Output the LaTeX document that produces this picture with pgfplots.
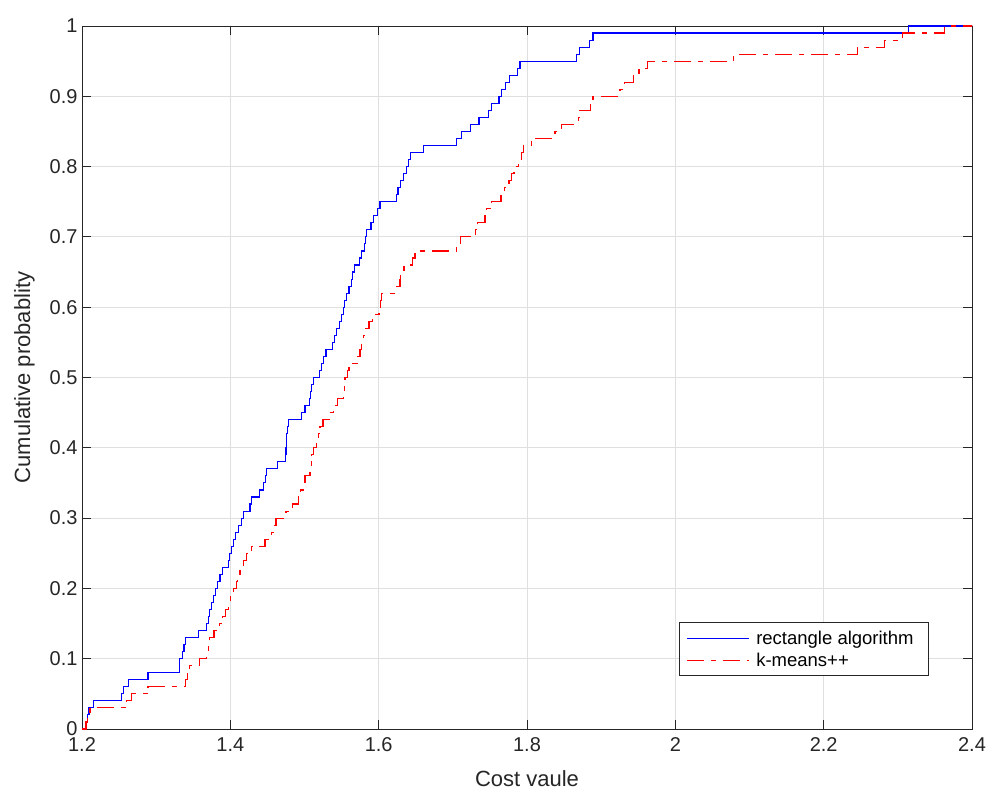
\documentclass[border=0pt]{standalone}
\usepackage{fontspec}
\setmainfont{Liberation Sans}
\usepackage{pgfplots}
\pgfplotsset{compat=1.18}
\definecolor{axgray}{RGB}{38,38,38}
\definecolor{gridgray}{RGB}{223,223,223}
\definecolor{mblue}{RGB}{0,0,255}
\definecolor{mred}{RGB}{255,0,0}
\begin{document}
\begin{tikzpicture}
\begin{axis}[name=ax, scale only axis, width=890pt, height=703pt,
 xmin=1.2, xmax=2.4, ymin=0, ymax=1,
 xtick={1.2,1.4,1.6,1.8,2,2.2,2.4},
 ytick={0,0.1,0.2,0.3,0.4,0.5,0.6,0.7,0.8,0.9,1},
 tick align=inside, major tick length=9pt,
 tick style={axgray, line width=0.8pt},
 axis line style={axgray, line width=0.8pt},
 grid=major, grid style={gridgray, line width=0.8pt},
 ticklabel style={font=\fontsize{20}{24}\selectfont, text=axgray},
 xticklabel style={yshift=-5pt},
 yticklabel style={xshift=-1pt},
 /pgf/number format/assume math mode=true,
 xlabel={Cost vaule}, ylabel={Cumulative probablity},
 label style={font=\fontsize{22}{26}\selectfont, text=axgray},
 xlabel style={yshift=-12pt},
 ylabel style={yshift=8pt},
 legend style={at={(rel axis cs:0.9517,0.0754)}, anchor=south east, draw=axgray, line width=0.8pt,
   font=\fontsize{18.5}{22}\selectfont, text=black, inner xsep=7pt, inner ysep=6pt,
   row sep=3pt, /tikz/every odd column/.append style={column sep=5pt}},
 legend cell align=left,
 legend image code/.code={\draw[#1] (0pt,0pt) -- (62pt,0pt);},
]
\addplot[const plot, draw=mblue, line width=1.1pt] coordinates {
(1.2000,0.00) (1.2054,0.01) (1.2075,0.02) (1.2095,0.03) (1.2150,0.04) (1.2535,0.05) (1.2560,0.06)
(1.2625,0.07) (1.2890,0.08) (1.3310,0.09) (1.3320,0.10) (1.3350,0.11) (1.3375,0.12) (1.3400,0.13)
(1.3570,0.14) (1.3680,0.15) (1.3700,0.16) (1.3720,0.17) (1.3740,0.18) (1.3770,0.19) (1.3800,0.20)
(1.3830,0.21) (1.3860,0.22) (1.3897,0.23) (1.3973,0.24) (1.3990,0.25) (1.4010,0.26) (1.4040,0.27)
(1.4070,0.28) (1.4110,0.29) (1.4153,0.30) (1.4180,0.31) (1.4265,0.32) (1.4280,0.33) (1.4390,0.34)
(1.4445,0.35) (1.4470,0.36) (1.4490,0.37) (1.4630,0.38) (1.4746,0.39) (1.4750,0.40) (1.4755,0.41)
(1.4760,0.42) (1.4765,0.43) (1.4790,0.44) (1.4960,0.45) (1.5007,0.46) (1.5065,0.47) (1.5080,0.48)
(1.5100,0.49) (1.5120,0.50) (1.5200,0.51) (1.5230,0.52) (1.5260,0.53) (1.5290,0.54) (1.5375,0.55)
(1.5400,0.56) (1.5433,0.57) (1.5470,0.58) (1.5500,0.59) (1.5520,0.60) (1.5537,0.61) (1.5570,0.62)
(1.5600,0.63) (1.5630,0.64) (1.5650,0.65) (1.5670,0.66) (1.5740,0.67) (1.5770,0.68) (1.5807,0.69)
(1.5820,0.70) (1.5838,0.71) (1.5896,0.72) (1.5927,0.73) (1.5980,0.74) (1.6018,0.75) (1.6240,0.76)
(1.6260,0.77) (1.6290,0.78) (1.6330,0.79) (1.6370,0.80) (1.6400,0.81) (1.6430,0.82) (1.6600,0.83)
(1.7052,0.84) (1.7120,0.85) (1.7240,0.86) (1.7353,0.87) (1.7480,0.88) (1.7524,0.89) (1.7622,0.90)
(1.7659,0.91) (1.7712,0.92) (1.7761,0.93) (1.7874,0.94) (1.7905,0.95) (1.8670,0.96) (1.8705,0.97)
(1.8840,0.98) (1.8890,0.99) (2.3140,1.00) (2.4500,1.00)
};
\addlegendentry{rectangle algorithm\hspace*{6pt}}
\addplot[const plot, draw=mred, line width=1.1pt, dash pattern=on 17pt off 7pt on 5pt off 7pt] coordinates {
(1.2000,0.00) (1.2054,0.01) (1.2080,0.02) (1.2108,0.03) (1.2602,0.04) (1.2670,0.05) (1.2890,0.06)
(1.3400,0.07) (1.3420,0.08) (1.3450,0.09) (1.3590,0.10) (1.3680,0.11) (1.3700,0.12) (1.3716,0.13)
(1.3780,0.14) (1.3850,0.15) (1.3900,0.16) (1.3930,0.17) (1.3980,0.18) (1.4000,0.19) (1.4040,0.20)
(1.4085,0.21) (1.4100,0.22) (1.4130,0.23) (1.4175,0.24) (1.4220,0.25) (1.4288,0.26) (1.4467,0.27)
(1.4560,0.28) (1.4600,0.29) (1.4616,0.30) (1.4750,0.31) (1.4840,0.32) (1.4917,0.33) (1.4950,0.34)
(1.4980,0.35) (1.5007,0.36) (1.5074,0.37) (1.5090,0.38) (1.5100,0.39) (1.5120,0.40) (1.5164,0.41)
(1.5190,0.42) (1.5209,0.43) (1.5250,0.44) (1.5330,0.45) (1.5388,0.46) (1.5443,0.47) (1.5523,0.48)
(1.5535,0.49) (1.5546,0.50) (1.5580,0.51) (1.5600,0.52) (1.5713,0.53) (1.5748,0.54) (1.5770,0.55)
(1.5793,0.56) (1.5825,0.57) (1.5870,0.58) (1.5920,0.59) (1.6004,0.60) (1.6030,0.61) (1.6040,0.62)
(1.6240,0.63) (1.6287,0.64) (1.6300,0.65) (1.6341,0.66) (1.6453,0.67) (1.6490,0.68) (1.7052,0.69)
(1.7106,0.70) (1.7310,0.71) (1.7330,0.72) (1.7433,0.73) (1.7456,0.74) (1.7524,0.75) (1.7650,0.76)
(1.7694,0.77) (1.7757,0.78) (1.7790,0.79) (1.7825,0.80) (1.7880,0.81) (1.7928,0.82) (1.7950,0.83)
(1.8060,0.84) (1.8378,0.85) (1.8468,0.86) (1.8690,0.87) (1.8705,0.88) (1.8852,0.89) (1.8890,0.90)
(1.9254,0.91) (1.9320,0.92) (1.9433,0.93) (1.9510,0.94) (1.9620,0.95) (2.0790,0.96) (2.2453,0.97)
(2.2817,0.98) (2.3065,0.99) (2.3635,1.00) (2.4500,1.00)
};
\addlegendentry{k-means++}
\end{axis}
\path (ax.south west) ++(-82pt,-69pt) rectangle ([xshift=26pt,yshift=26pt]ax.north east);
\end{tikzpicture}
\end{document}
